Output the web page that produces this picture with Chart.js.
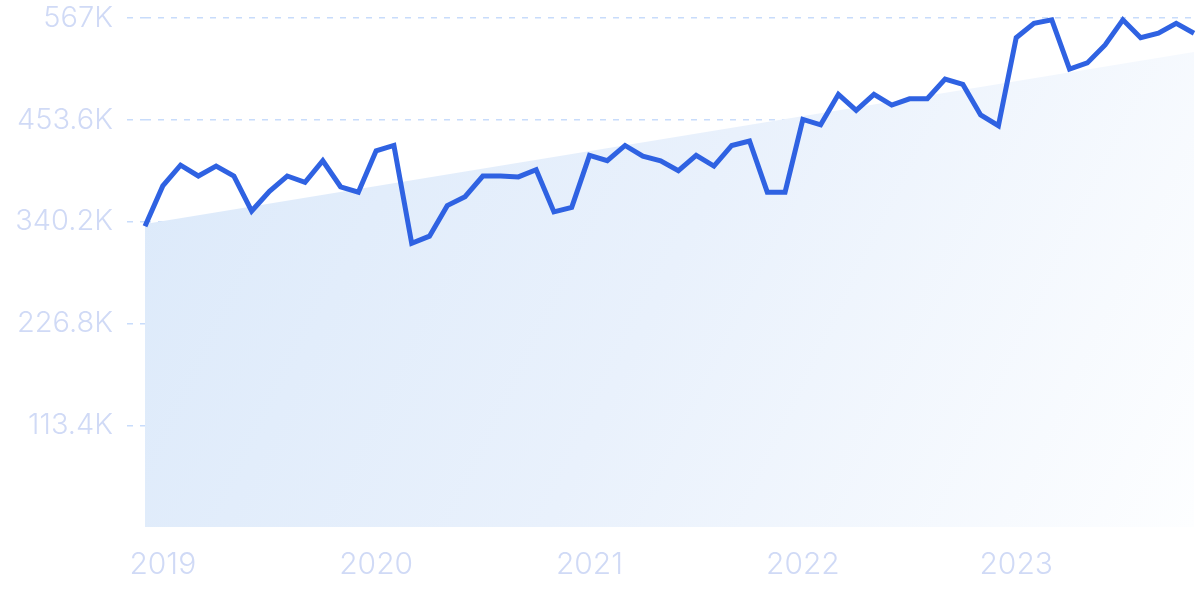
<!DOCTYPE html>
<html>
<head>
<meta charset="utf-8">
<script src="https://cdn.jsdelivr.net/npm/chart.js@4/dist/chart.umd.min.js"></script>
<style>
  html, body { margin: 0; padding: 0; background: #fff; }
  #wrap { width: 1200px; height: 599px; }
</style>
</head>
<body>
<div id="wrap"><canvas id="chart" width="1200" height="599"></canvas></div>
<script>
// monthly labels, Dec 2018 .. Nov 2023
const months = ['Jan','Feb','Mar','Apr','May','Jun','Jul','Aug','Sep','Oct','Nov','Dec']
const labels = ['Dec 2018']
for (let y = 2019; y <= 2023; y++) {
  for (let m = 0; m < 12; m++) {
    if (y === 2023 && m === 11) break
    labels.push(months[m] + ' ' + y)
  }
}

// monthly values
const values = [
  335000, 380000, 403000, 391000, 402000, 391000, 352000, 374000, 391000, 384000, 408000, 379000,
  373000, 419000, 425000, 316000, 324000, 358000, 368000, 391000, 391000, 390000, 398000, 351000,
  356000, 414000, 408000, 425000, 413000, 408000, 397000, 414000, 402000, 425000, 430000, 373000,
  373000, 454000, 448000, 482000, 464000, 482000, 470000, 477000, 477000, 499000, 493000, 459000,
  447000, 545000, 561000, 565000, 510000, 517000, 537000, 565000, 545000, 550000, 561000, 550000
]

// trend line end points
const trend = [
  { x: 'Dec 2018', y: 337500 },
  { x: 'Nov 2023', y: 529000 }
]

const yTicks = [0, 113400, 226800, 340200, 453600, 567000]

const tickColor = '#d0daf6'
const gridColor = '#c8dcfb'

function fmt(v) {
  let s = (v / 1000).toFixed(1)
  if (s.endsWith('.0')) s = s.slice(0, -2)
  return s + 'K'
}

const ctx = document.getElementById('chart')

const myChart = new Chart(ctx, {
  type: 'line',
  data: {
    labels: labels,
    datasets: [
      {
        data: values,
        borderColor: '#2f62e2',
        borderWidth: 5,
        pointRadius: 0,
        tension: 0,
        fill: false,
        clip: false,
        order: 0
      },
      {
        data: trend,
        borderWidth: 0,
        borderColor: 'rgba(0,0,0,0)',
        pointRadius: 0,
        fill: 'origin',
        order: 1,
        backgroundColor: (c) => {
          const area = c.chart.chartArea
          if (!area) return '#e4eefb'
          const g = c.chart.ctx.createLinearGradient(area.left, area.top, area.right, area.bottom)
          g.addColorStop(0, '#dbe9fa')
          g.addColorStop(0.5, '#e9f1fc')
          g.addColorStop(1, '#fdfeff')
          return g
        }
      }
    ]
  },
  options: {
    responsive: false,
    animation: false,
    layout: { padding: { top: 18, right: 6, left: 0, bottom: 0 } },
    plugins: {
      legend: { display: false },
      tooltip: { enabled: false }
    },
    scales: {
      x: {
        type: 'category',
        grid: { display: false, drawTicks: false },
        border: { display: false },
        afterFit: (s) => { s.height = 72; s.paddingLeft = 0; s.paddingRight = 0 },
        ticks: {
          autoSkip: false,
          maxRotation: 0,
          padding: 20,
          color: tickColor,
          font: { family: 'Inter', size: 30, weight: 300 },
          callback: function (v, i) {
            const l = labels[i]
            return l.startsWith('Jan') ? l.slice(4) : ''
          }
        }
      },
      y: {
        min: 0,
        max: 567000,
        afterFit: (s) => { s.width = 145; s.paddingTop = 0; s.paddingBottom = 0 },
        afterBuildTicks: (s) => { s.ticks = yTicks.map(v => ({ value: v })) },
        border: { display: false, dash: [6, 7] },
        grid: {
          color: (c) => c.tick && c.tick.value === 0 ? 'rgba(0,0,0,0)' : gridColor,
          lineWidth: 1.4,
          tickBorderDash: [6, 7],
          tickLength: 18
        },
        ticks: {
          padding: 14,
          color: tickColor,
          font: { family: 'Inter', size: 29, weight: 300 },
          callback: (v) => v === 0 ? '' : fmt(v)
        }
      }
    }
  }
})
</script>
</body>
</html>
